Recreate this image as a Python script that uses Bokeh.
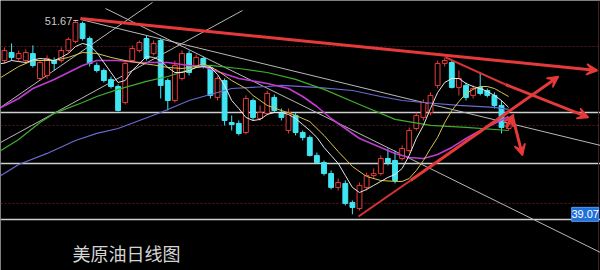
from bokeh.plotting import figure
from bokeh.models import Range1d, Span, Label, Arrow, VeeHead, ColumnDataSource
from bokeh.embed import file_html
from bokeh.resources import INLINE

# ---- candle data (US crude oil, daily) ----
opens = [49.07, 49.59, 49.20, 49.07, 49.52, 47.90, 48.10, 49.07, 49.07, 49.72,
         50.31, 51.48, 50.50, 48.75, 48.42, 47.84, 47.38, 46.34, 49.07, 49.72,
         50.50, 49.52, 50.37, 47.77, 46.47, 47.90, 49.52, 48.75, 49.20, 48.62,
         46.67, 47.77, 45.04, 44.98, 44.39, 46.47, 45.30, 45.63, 46.67, 45.69,
         44.52, 45.50, 44.39, 44.07, 42.90, 42.44, 41.72, 40.82, 41.08, 39.84,
         39.45, 40.82, 41.59, 41.72, 42.70, 42.57, 42.70, 43.22, 44.65, 45.37,
         45.69, 47.45, 48.88, 48.94, 47.32, 47.45, 46.80, 47.32, 47.12, 46.80,
         46.15, 44.65]
highs = [49.92, 50.18, 49.72, 49.79, 50.05, 49.07, 49.40, 49.27, 49.92, 50.57,
         51.67, 51.60, 50.63, 48.94, 48.55, 48.03, 47.51, 49.07, 50.05, 50.37,
         50.70, 50.37, 50.50, 47.90, 49.07, 49.72, 49.72, 49.46, 49.33, 48.75,
         48.03, 47.90, 45.50, 45.17, 46.80, 46.60, 46.15, 47.12, 46.86, 45.95,
         45.95, 45.69, 44.52, 44.20, 43.09, 42.57, 41.92, 41.40, 41.27, 39.97,
         41.14, 41.79, 42.05, 42.90, 43.35, 43.22, 43.55, 44.72, 45.69, 46.54,
         47.00, 49.07, 49.27, 49.07, 48.42, 47.64, 47.45, 48.29, 47.25, 47.00,
         46.47, 45.30]
lows = [48.88, 49.07, 49.01, 48.88, 48.62, 47.77, 47.90, 48.42, 48.94, 49.59,
        50.18, 50.37, 48.68, 48.29, 47.64, 47.25, 45.76, 46.21, 48.94, 49.59,
        49.07, 49.40, 46.60, 45.82, 46.34, 47.77, 48.10, 48.62, 48.55, 46.60,
        46.47, 44.85, 44.52, 44.20, 44.26, 45.17, 45.17, 45.50, 45.69, 45.17,
        44.33, 44.20, 43.87, 42.83, 42.38, 41.59, 40.69, 40.62, 39.65, 39.07,
        39.32, 40.62, 41.40, 41.59, 42.25, 41.08, 42.57, 43.09, 44.52, 45.17,
        45.50, 47.25, 48.68, 47.25, 46.80, 46.47, 46.60, 46.80, 46.67, 45.95,
        44.33, 44.52]
closes = [49.72, 49.27, 49.52, 49.59, 48.75, 48.94, 49.20, 48.88, 49.72, 50.44,
          51.54, 50.50, 48.88, 48.42, 47.77, 47.38, 45.82, 48.88, 49.85, 50.24,
          49.20, 50.18, 47.45, 46.47, 48.75, 49.52, 48.29, 49.27, 48.75, 46.80,
          47.90, 45.17, 44.91, 44.33, 46.60, 45.37, 45.69, 46.93, 45.82, 45.37,
          45.69, 44.39, 44.07, 42.90, 42.44, 41.72, 40.82, 41.14, 39.78, 39.52,
          40.95, 41.59, 41.72, 42.70, 42.44, 41.27, 43.35, 44.52, 45.50, 46.34,
          46.80, 48.88, 49.07, 47.32, 47.90, 46.67, 47.25, 46.93, 46.80, 46.15,
          44.72, 44.98]
day = list(range(len(opens)))

# ---- moving averages ----
ma5_x = [-0.5] + list(range(72))
ma5 = [48.87, 48.90, 49.07, 49.00, 48.94, 49.10, 49.20, 49.15, 49.07, 49.27, 49.53,
       49.98, 50.18, 50.05, 49.59, 48.94, 48.29, 47.64, 47.77, 48.42, 48.87,
       49.33, 49.27, 49.07, 48.62, 48.29, 48.29, 48.42, 48.62, 48.68, 48.62,
       48.16, 47.45, 46.47, 45.95, 45.37, 45.17, 45.24, 45.56, 45.69, 45.69,
       45.56, 45.30, 44.91, 44.52, 44.07, 43.42, 42.90, 42.38, 41.60, 40.82,
       40.49, 40.69, 40.95, 41.21, 41.47, 41.66, 42.05, 42.90, 44.00, 44.85,
       45.95, 46.99, 47.64, 47.90, 47.90, 47.58, 47.38, 47.25, 47.06, 46.80,
       46.47, 46.02]
ma10_x = [-0.5, 2, 4, 7, 9, 11, 13, 15, 17, 19, 21, 23, 25, 27, 28, 30, 32, 34, 35,
          37, 39, 41, 43, 45, 47, 49, 51, 53, 55, 56, 57, 58, 59, 60, 61, 62, 63,
          64, 65, 66, 67, 68, 69, 70, 71]
ma10 = [47.97, 48.68, 49.07, 49.07, 49.27, 49.59, 49.53, 49.27, 49.07, 48.91, 48.78,
        48.62, 48.55, 48.68, 48.88, 48.42, 47.77, 47.25, 46.80, 46.15, 45.82, 45.50,
        45.10, 44.20, 43.15, 42.18, 41.53, 41.27, 41.21, 41.21, 41.40, 41.92, 42.57,
        43.35, 44.07, 45.04, 45.82, 46.40, 46.93, 47.19, 47.38, 47.38, 47.25, 46.99,
        46.73]
ma20_x = [-0.5, 2, 4, 7, 9, 11, 13, 16, 19, 23, 26, 28, 30, 33, 37, 40, 42, 44, 46,
          48, 50, 53, 55, 57, 59, 61, 63, 65, 67, 69, 71]
ma20 = [46.02, 46.60, 47.25, 47.84, 48.29, 48.75, 49.07, 49.07, 48.94, 48.94, 48.75,
        48.68, 48.35, 47.90, 47.58, 47.25, 46.73, 46.08, 45.30, 44.65, 44.00, 43.42,
        43.03, 42.77, 42.70, 42.96, 43.42, 44.00, 44.52, 44.97, 45.43]
ma40_x = [-0.5, 2, 5, 7, 11, 13, 16, 18, 20, 23, 27, 29, 33, 37, 41, 45, 50, 55, 60,
          65, 71]
ma40 = [43.22, 43.94, 45.04, 45.63, 46.34, 46.73, 47.19, 47.45, 47.71, 48.03, 48.62,
        48.75, 48.55, 48.29, 47.84, 47.19, 46.21, 45.24, 44.85, 44.72, 44.52]
ma60_x = [-0.5, 2, 6, 10, 13, 16, 19, 22, 26, 28, 32, 37, 39, 44, 49, 53, 56, 59, 64,
          69, 71]
ma60 = [41.60, 42.31, 43.03, 43.87, 44.33, 44.65, 45.17, 45.69, 46.47, 46.73, 47.25,
        47.38, 47.45, 47.32, 47.12, 46.73, 46.47, 46.34, 46.15, 46.02, 45.89]

# ---- drawn trend lines ----
grey_x0 = [-0.56, -0.56, 10.70, 14.23]
grey_y0 = [46.02, 43.74, 51.74, 52.45]
grey_x1 = [20.85, 33.52, 83.94, 83.94]
grey_y1 = [52.84, 52.32, 43.55, 36.59]

thin_x0 = [62.11, 49.86]
thin_y0 = [49.27, 38.93]
thin_x1 = [70.56, 57.18]
thin_y1 = [47.51, 41.27]

arrow_x0 = [10.70, 70.56, 57.18, 70.70, 71.55]
arrow_y0 = [51.80, 47.51, 41.27, 44.71, 45.43]
arrow_x1 = [83.52, 82.25, 78.03, 71.69, 72.96]
arrow_y1 = [48.42, 45.37, 48.03, 45.56, 42.90]

white_levels = [45.69, 42.38, 38.74]
dotted_levels = [49.98, 44.85, 39.78]

high_label = "51.67"
low_label = "39.07"
title = "美原油日线图"

RED = "#e63a3a"
CYAN = "#3fe6f2"

p = figure(width=600, height=270, x_range=Range1d(-0.56, 83.94),
           y_range=Range1d(35.42, 52.97), output_backend="svg",
           toolbar_location=None, min_border=0,
           x_axis_location=None, y_axis_location=None,
           background_fill_color="black", border_fill_color="black")
p.grid.visible = False
p.outline_line_color = None

for lv in white_levels:
    p.add_layout(Span(location=lv, dimension="width", line_color="#cfcfcf",
                      line_width=1.5, level="underlay"))
for lv in dotted_levels:
    p.add_layout(Span(location=lv, dimension="width", line_color="#5e1a1a",
                      line_width=1, line_dash="2 2", level="underlay"))
p.add_layout(Span(location=83.66, dimension="height", line_color="#3a2222",
                  line_width=1, level="underlay"))

p.segment(x0=grey_x0, y0=grey_y0, x1=grey_x1, y1=grey_y1, line_color="#b8b8b8",
          line_width=1)

up = [i for i in day if closes[i] >= opens[i]]
dn = [i for i in day if closes[i] < opens[i]]

p.segment(x0=[day[i] for i in up], y0=[highs[i] for i in up],
          x1=[day[i] for i in up], y1=[lows[i] for i in up], line_color=RED, line_width=1)
p.segment(x0=[day[i] for i in dn], y0=[highs[i] for i in dn],
          x1=[day[i] for i in dn], y1=[lows[i] for i in dn], line_color=CYAN, line_width=1)
p.vbar(x=[day[i] for i in up], width=0.68, top=[closes[i] for i in up],
       bottom=[opens[i] for i in up], fill_color="black", line_color=RED, line_width=1)
p.vbar(x=[day[i] for i in dn], width=0.68, top=[opens[i] for i in dn],
       bottom=[closes[i] for i in dn], fill_color=CYAN, line_color=CYAN, line_width=1)

p.line(ma60_x, ma60, line_color="#6a6ad0", line_width=1.2)
p.line(ma40_x, ma40, line_color="#3fae2e", line_width=1.2)
p.line(ma20_x, ma20, line_color="#c03cd0", line_width=1.6)
p.line(ma10_x, ma10, line_color="#d8c44c", line_width=1)
p.line(ma5_x, ma5, line_color="#e6e6e6", line_width=1)

p.segment(x0=thin_x0, y0=thin_y0, x1=thin_x1, y1=thin_y1, line_color="#d83434",
          line_width=2)
src = ColumnDataSource(dict(x0=arrow_x0, y0=arrow_y0, x1=arrow_x1, y1=arrow_y1))
p.add_layout(Arrow(end=VeeHead(size=11, line_color=RED, fill_color=RED, line_width=1.5),
                   x_start="x0", y_start="y0", x_end="x1", y_end="y1",
                   line_color=RED, line_width=3, source=src))

# high-price marker
p.add_layout(Label(x=9.55, y=highs[10], text=high_label, text_align="right",
                   text_baseline="middle", text_color="#c8c8c8",
                   text_font="Liberation Sans", text_font_size="11px"))
p.segment(x0=[9.7], y0=[highs[10]], x1=[10.4], y1=[highs[10]], line_color="#c8c8c8",
          line_width=1)

# low-price tag at the right edge
low_val = min(lows)
p.rect(x=[81.78], y=[low_val], width=27, height=14, width_units="screen",
       height_units="screen", fill_color="#2070dc", line_color="#5a9af0",
       line_width=1)
p.add_layout(Label(x=81.78, y=low_val, text=low_label, text_align="center",
                   text_baseline="middle", text_color="white",
                   text_font="Liberation Sans", text_font_size="11px"))

p.add_layout(Label(x=9.58, y=36.59, text=title, text_align="left",
                   text_baseline="middle", text_color="#d4d4d4",
                   text_font="Noto Sans CJK SC", text_font_size="18px"))

open("out.html", "w").write(file_html(p, INLINE))
